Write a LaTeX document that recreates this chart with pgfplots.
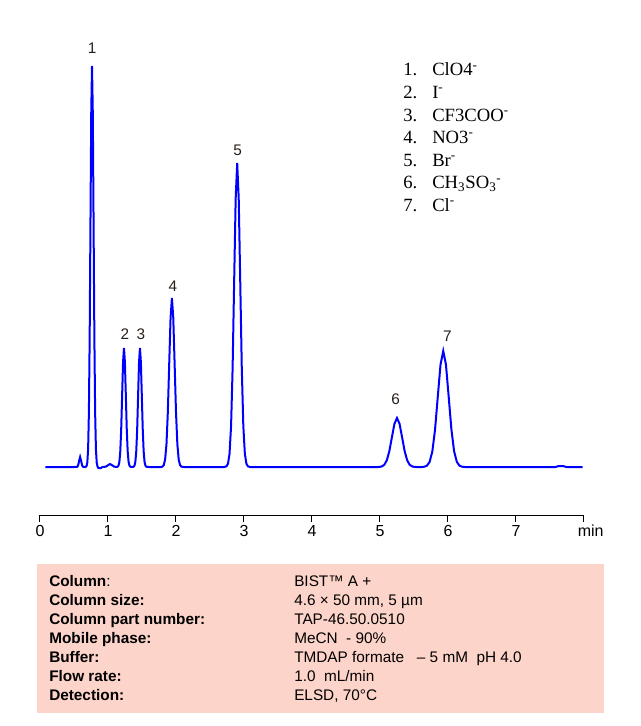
\documentclass[border=0pt]{standalone}
\usepackage{pgfplots}
\pgfplotsset{compat=1.18}
\usepackage{fontspec}
\setmainfont{Liberation Sans}
\newfontfamily\seriffont{Liberation Serif}
\definecolor{boxpink}{RGB}{253,212,201}
\definecolor{lbl}{RGB}{40,30,25}
\begin{document}
\begin{tikzpicture}
% full picture frame (641 x 726 px at 0.75pt/px)
\path (-30pt,386.25pt) rectangle (450.75pt,-158.25pt);
\begin{axis}[
  at={(0pt,0pt)}, anchor=south west,
  scale only axis, width=408pt, height=363.75pt,
  xmin=0, xmax=8, ymin=-48, ymax=437,
  axis x line=bottom, axis y line=none,
  x axis line style={-, line width=0.75pt},
  xtick={0,1,2,3,4,5,6,7,8},
  xticklabels={0,1,2,3,4,5,6,7,{\hspace{10pt}min}},
  tick align=outside, major tick length=5pt,
  tick style={black, line width=0.75pt},
  xticklabel style={font=\fontsize{12}{14}\selectfont, yshift=1pt},
  /pgf/number format/assume math mode=true,
  clip=false,
]
\addplot[blue, line width=1.5pt] coordinates {
(0.08,0) (0.5,0) (0.545,0.1) (0.56,1.4) (0.575,6.1) (0.59,10) (0.605,6.1) (0.62,1.4) (0.635,0.1) (0.67,0)
(0.6845,0.9) (0.696,4.5) (0.7075,17.6) (0.719,54.3) (0.7305,130.2) (0.742,243.2) (0.7535,353.9) (0.765,401)
(0.7765,353.9) (0.788,243.2) (0.7995,130.2) (0.811,54.3) (0.8225,17.6) (0.834,4.5) (0.8455,0.5)
(0.86,-1.2) (0.89,-1.2) (0.92,0) (0.97,0.4) (1.0,1.8) (1.03,3) (1.06,1.8) (1.09,0.4) (1.12,0)
(1.1405,0.26) (1.154,1.3) (1.1675,5.2) (1.181,16.1) (1.1945,38.6) (1.208,72.2) (1.2215,105.0) (1.235,119)
(1.2485,105.0) (1.262,72.2) (1.2755,38.6) (1.289,16.1) (1.3025,5.2) (1.316,1.3) (1.3295,0.26) (1.3525,0)
(1.3755,0.26) (1.389,1.3) (1.4025,5.2) (1.416,16.1) (1.4295,38.6) (1.443,72.2) (1.4565,105.0) (1.47,119)
(1.4835,105.0) (1.497,72.2) (1.5105,38.6) (1.524,16.1) (1.5375,5.2) (1.551,1.3) (1.5645,0.26) (1.6,0)
(1.78,0) (1.80,0.37) (1.82,1.9) (1.84,7.4) (1.86,22.9) (1.88,54.9) (1.90,102.5) (1.92,149.1) (1.94,169)
(1.96,149.1) (1.98,102.5) (2.00,54.9) (2.02,22.9) (2.04,7.4) (2.06,1.9) (2.08,0.37) (2.11,0)
(2.71,0) (2.7425,0.7) (2.765,3.4) (2.7875,13.3) (2.81,41.1) (2.8325,98.7) (2.855,184.4) (2.8775,268.3) (2.90,304)
(2.9225,268.3) (2.945,184.4) (2.9675,98.7) (2.99,41.1) (3.0125,13.3) (3.035,3.4) (3.0575,0.7) (3.09,0)
(4.97,0) (5.0,0.2) (5.025,0.54) (5.0625,2.15) (5.10,6.6) (5.1375,15.9) (5.175,29.7) (5.2125,43.2) (5.25,49)
(5.2875,43.2) (5.325,29.7) (5.3625,15.9) (5.40,6.6) (5.4375,2.15) (5.475,0.54) (5.5,0.2) (5.53,0)
(5.62,0) (5.65,0.26) (5.69,1.3) (5.73,5.1) (5.77,15.7) (5.81,37.7) (5.85,70.4) (5.89,102.4) (5.93,116)
(5.97,102.4) (6.01,70.4) (6.05,37.7) (6.09,15.7) (6.13,5.1) (6.17,1.3) (6.21,0.26) (6.25,0)
(7.58,0) (7.62,0.8) (7.66,1) (7.70,0.8) (7.74,0) (7.98,0)
};
\begin{scope}[every node/.style={text=lbl, font=\fontsize{11.5}{13}\selectfont}]
\node at (axis cs:0.765,419) {1};
\node at (axis cs:1.25,133) {2};
\node at (axis cs:1.485,133) {3};
\node at (axis cs:1.955,181) {4};
\node at (axis cs:2.905,317) {5};
\node at (axis cs:5.23,68) {6};
\node at (axis cs:5.99,131) {7};
\end{scope}
\end{axis}
% legend (Times-like)
\begin{scope}[every node/.style={anchor=base west, inner sep=0pt, font=\seriffont\fontsize{14}{16}\selectfont}]
\node at (272.25pt,329.25pt) {1.};  \node at (294pt,329.25pt) {ClO4\textsuperscript{-}};
\node at (272.25pt,312.3pt) {2.};   \node at (294pt,312.3pt) {I\textsuperscript{-}};
\node at (272.25pt,295.35pt) {3.};  \node at (294pt,295.35pt) {CF3COO\textsuperscript{-}};
\node at (272.25pt,278.4pt) {4.};   \node at (294pt,278.4pt) {NO3\textsuperscript{-}};
\node at (272.25pt,261.45pt) {5.};  \node at (294pt,261.45pt) {Br\textsuperscript{-}};
\node at (272.25pt,244.5pt) {6.};   \node at (294pt,244.5pt) {CH\textsubscript{3}SO\textsubscript{3}\textsuperscript{-}};
\node at (272.25pt,227.55pt) {7.};  \node at (294pt,227.55pt) {Cl\textsuperscript{-}};
\end{scope}
% info box
\fill[boxpink] (-2.25pt,-36.75pt) rectangle (423pt,-148.5pt);
\begin{scope}[every node/.style={anchor=base west, inner sep=0pt, font=\fontsize{11.5}{13}\selectfont}]
\node at (6.75pt,-53.25pt) {\textbf{Column}:};
\node at (6.75pt,-67.5pt) {\textbf{Column size:}};
\node at (6.75pt,-81.75pt) {\textbf{Column part number:}};
\node at (6.75pt,-96pt) {\textbf{Mobile phase:}};
\node at (6.75pt,-110.25pt) {\textbf{Buffer:}};
\node at (6.75pt,-124.5pt) {\textbf{Flow rate:}};
\node at (6.75pt,-138.75pt) {\textbf{Detection:}};
\node at (190.5pt,-53.25pt) {BIST™ A +};
\node at (190.5pt,-67.5pt) {4.6 × 50 mm, 5 µm};
\node at (190.5pt,-81.75pt) {TAP-46.50.0510};
\node at (190.5pt,-96pt) {MeCN~ - 90\%};
\node at (190.5pt,-110.25pt) {TMDAP formate~~~– 5 mM~ pH 4.0};
\node at (190.5pt,-124.5pt) {1.0~ mL/min};
\node at (190.5pt,-138.75pt) {ELSD, 70°C};
\end{scope}
\end{tikzpicture}
\end{document}
